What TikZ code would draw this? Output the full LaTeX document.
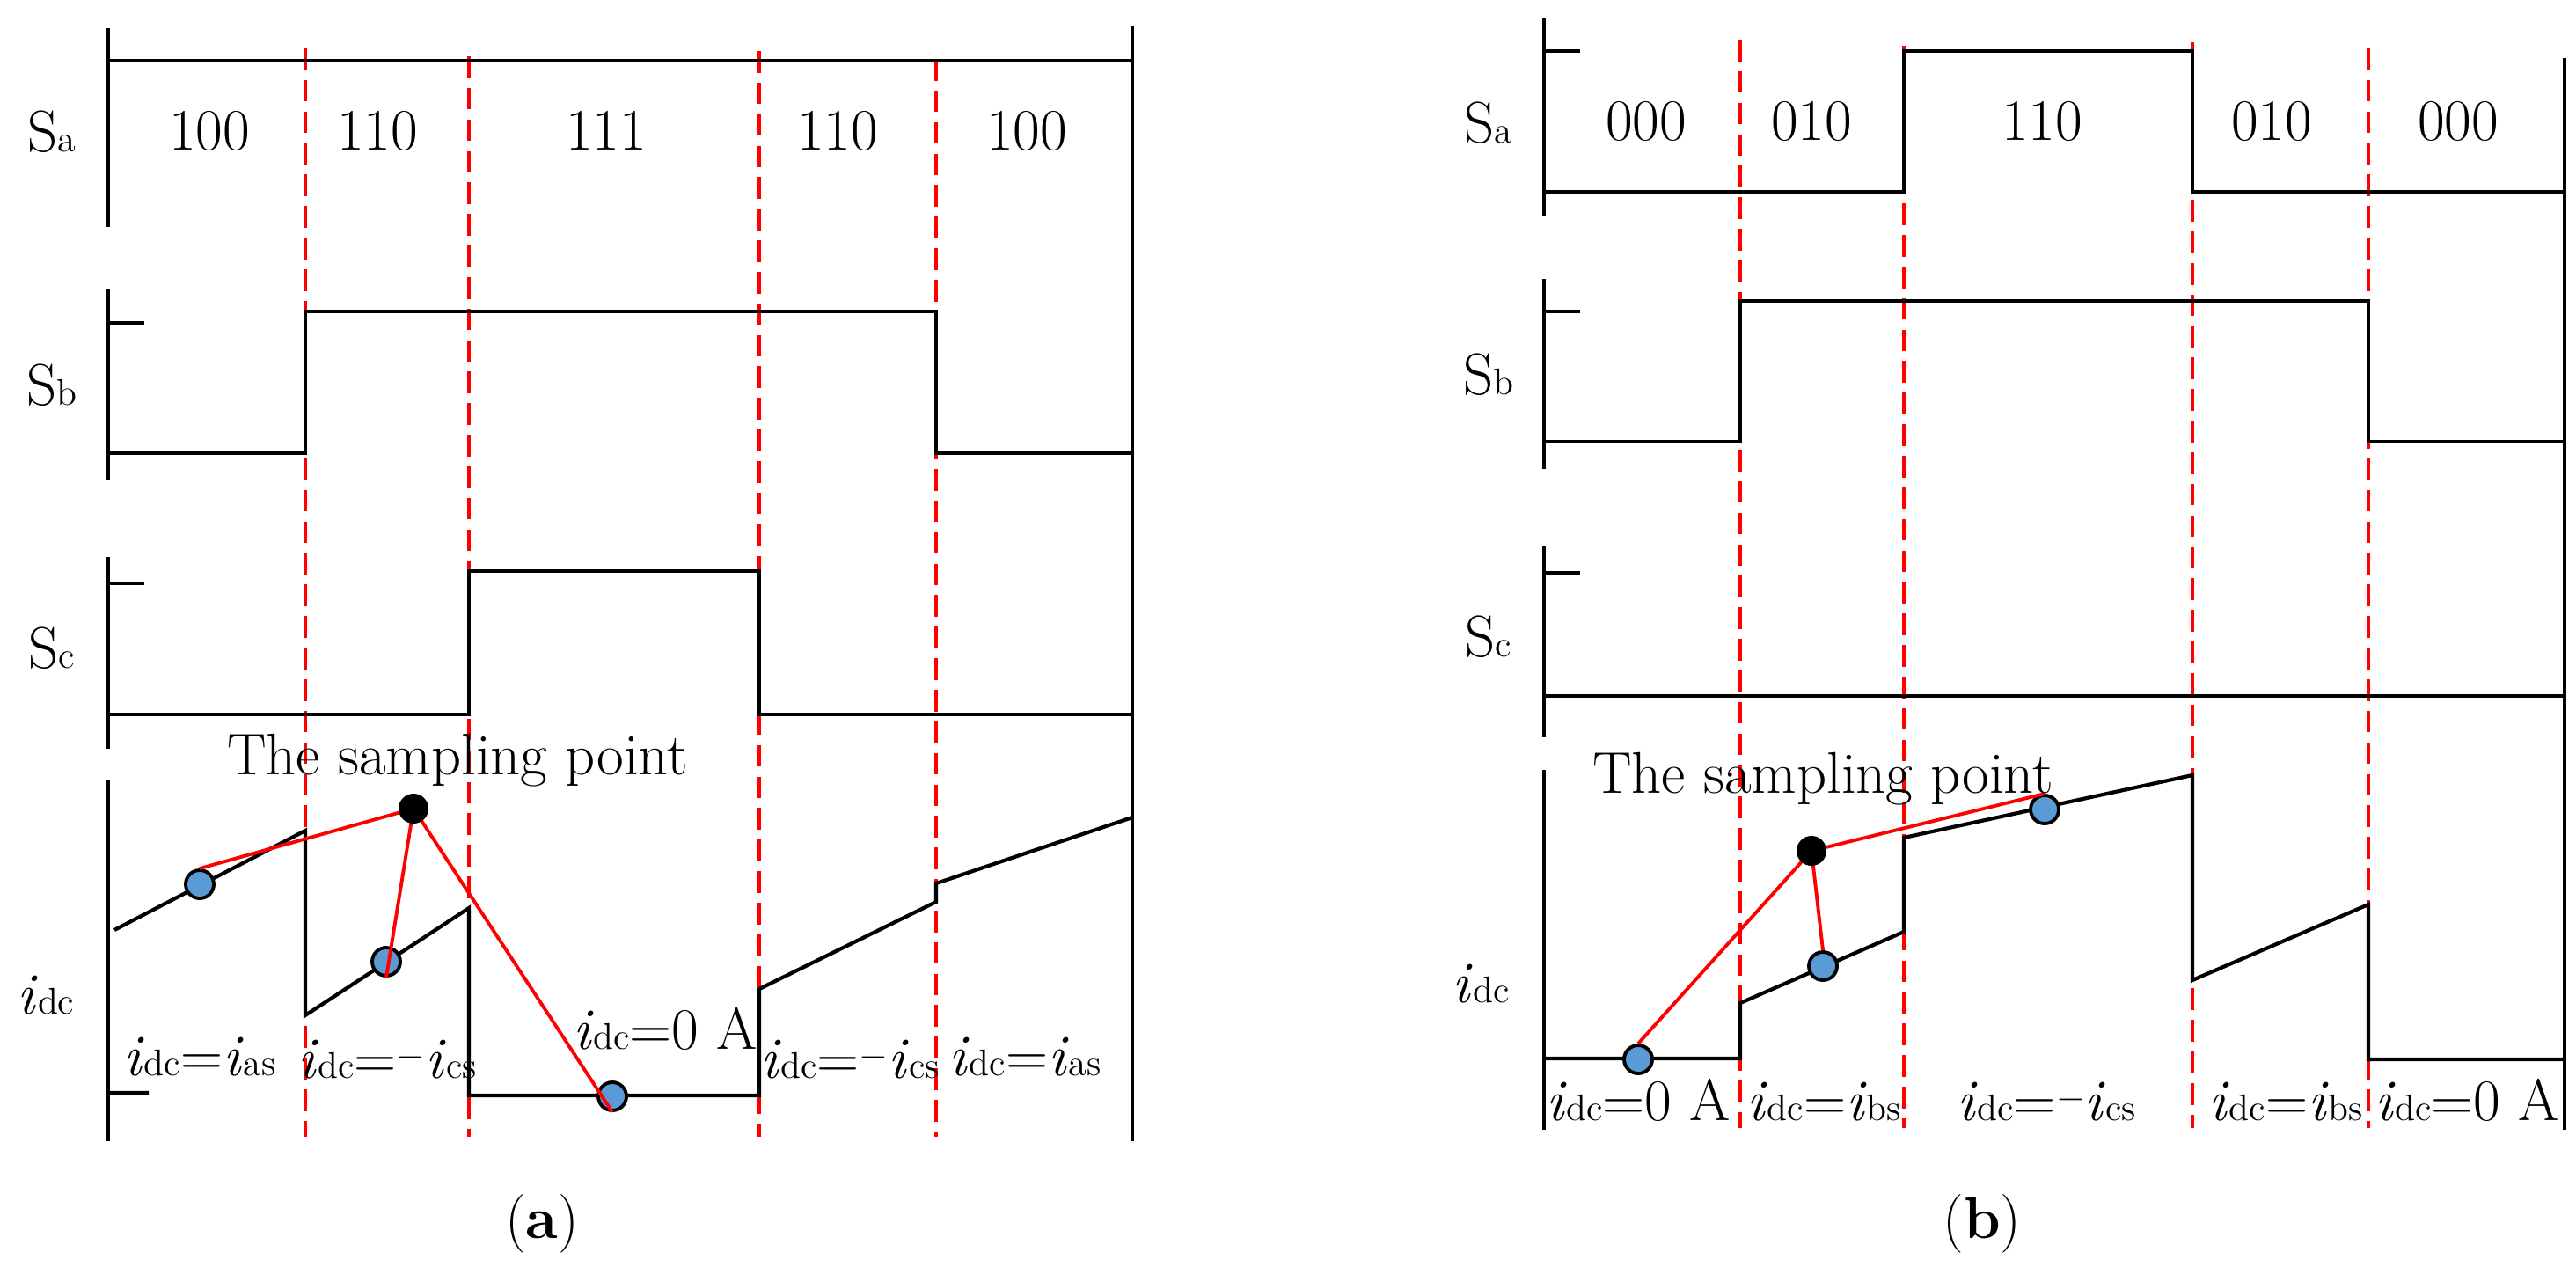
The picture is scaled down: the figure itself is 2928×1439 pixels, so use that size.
\documentclass[tikz,border=0pt]{standalone}
\usepackage{graphicx}
\definecolor{dotblue}{RGB}{91,155,213}
\newcommand{\lowsub}[1]{{\fontsize{12}{14}\selectfont #1}}
\newcommand{\idc}{\textit{i}\lowsub{dc}}
\newcommand{\negsgn}{\raisebox{0.45ex}{\lowsub{$-$}}}
\begin{document}
\begin{tikzpicture}[x=0.1mm, y=-0.1mm, sig/.style={line width=1.2pt}, cut/.style={red, line width=1.1pt, dash pattern=on 7pt off 3.2pt}, link/.style={red, line width=1.1pt}, meas/.style={circle, draw, line width=1.1pt, fill=dotblue, inner sep=0pt, minimum size=3.2mm}, samp/.style={circle, fill=black, inner sep=0pt, minimum size=3.4mm}, lab/.style={anchor=base, inner sep=0pt, font=\fontsize{19}{23}\selectfont}]
\useasboundingbox (0,0) rectangle (2928,1439);

% (a) switching states 100-110-111-110-100
\foreach \x/\t in {347/55, 533/64, 863/58, 1064/67} \draw[cut] (\x,\t)--(\x,1292);
\draw[sig] (123,32)--(123,258) (123,328)--(123,546) (123,633)--(123,851) (123,887)--(123,1297) (1287,29)--(1287,1297);
\draw[sig] (123,69)--(1287,69);
\draw[sig] (123,367)--(164,367) (123,515)--(347,515)--(347,354)--(1064,354)--(1064,515)--(1287,515);
\draw[sig] (123,663)--(164,663) (123,812)--(533,812)--(533,649)--(863,649)--(863,812)--(1287,812);
\draw[sig] (123,1242)--(169,1242) (130,1057)--(347,944)--(347,1154)--(533,1032)--(533,1245)--(863,1245)--(863,1124)--(1064,1025)--(1064,1004)--(1287,929);
\node[lab] (saA) at (59,172) {S\lowsub{a}}; \node[lab] (sbA) at (59,460) {S\lowsub{b}}; \node[lab] (scA) at (59,759) {S\lowsub{c}}; \node[lab] (idA) at (52,1152) {\idc};
\foreach \x/\v [count=\i] in {238/100, 429/110, 689/111, 952/110, 1167/100} \node[lab] (stA\i) at (\x,170) {\v};
\node[meas] (a1) at (227,1005) {}; \node[meas] (a2) at (439,1093) {}; \node[meas] (a3) at (696,1246) {};
\coordinate (spA) at (470,919);
\draw[link] (spA)--(a1.north); \draw[link] (spA)--(a2.south); \draw[link] (spA)--(a3.south);
\node[samp] (dotA) at (spA) {};
\node[lab] (txtA) at (520,880) {The sampling point};
\node[lab] (cA1) at (227,1222) {\idc=\textit{i}\lowsub{as}};
\node[lab] (cA2) at (440,1225) {\idc=\negsgn\textit{i}\lowsub{cs}};
\node[lab] (cA3) at (756,1192) {\idc=0 A};
\node[lab] (cA4) at (966,1225) {\idc=\negsgn\textit{i}\lowsub{cs}};
\node[lab] (cA5) at (1165,1222) {\idc=\textit{i}\lowsub{as}};
\node[lab] (capA) at (616,1407) {(\textbf{a})};

% (b) switching states 000-010-110-010-000
\foreach \x/\t in {1978/45, 2164/52, 2492/48, 2692/55} \draw[cut] (\x,\t)--(\x,1282);
\draw[sig] (1755,21)--(1755,245) (1755,317)--(1755,533) (1755,620)--(1755,838) (1755,875)--(1755,1284) (2915,66)--(2915,1284);
\draw[sig] (1755,58)--(1796,58) (1755,218)--(2164,218)--(2164,58)--(2492,58)--(2492,218)--(2915,218);
\draw[sig] (1755,354)--(1796,354) (1755,502)--(1978,502)--(1978,342)--(2692,342)--(2692,502)--(2915,502);
\draw[sig] (1755,651)--(1796,651) (1755,791)--(2915,791);
\draw[sig] (1755,1203)--(1978,1203)--(1978,1140)--(2164,1059)--(2164,952)--(2492,881)--(2492,1114)--(2692,1028)--(2692,1204)--(2915,1204);
\node[lab] (saB) at (1692,162) {S\lowsub{a}}; \node[lab] (sbB) at (1692,448) {S\lowsub{b}}; \node[lab] (scB) at (1692,746) {S\lowsub{c}}; \node[lab] (idB) at (1683,1139) {\idc};
\foreach \x/\v [count=\i] in {1871/000, 2059/010, 2321/110, 2582/010, 2794/000} \node[lab] (stB\i) at (\x,159) {\v};
\node[meas] (b1) at (1862,1204) {}; \node[meas] (b2) at (2072,1098) {}; \node[meas] (b3) at (2324,920) {};
\coordinate (spB) at (2059,967);
\draw[link] (spB)--(b1.north); \draw[link] (spB)--(b2.north); \draw[link] (spB)--(b3.north);
\node[samp] (dotB) at (spB) {};
\node[lab] (txtB) at (2072,901) {The sampling point};
\node[lab] (cB1) at (1862,1273) {\idc=0 A};
\node[lab] (cB2) at (2073,1273) {\idc=\textit{i}\lowsub{bs}};
\node[lab] (cB3) at (2326,1273) {\idc=\negsgn\textit{i}\lowsub{cs}};
\node[lab] (cB4) at (2598,1273) {\idc=\textit{i}\lowsub{bs}};
\node[lab] (cB5) at (2804,1273) {\idc=0 A};
\node[lab] (capB) at (2253,1407) {(\textbf{b})};
\end{tikzpicture}
\end{document}
